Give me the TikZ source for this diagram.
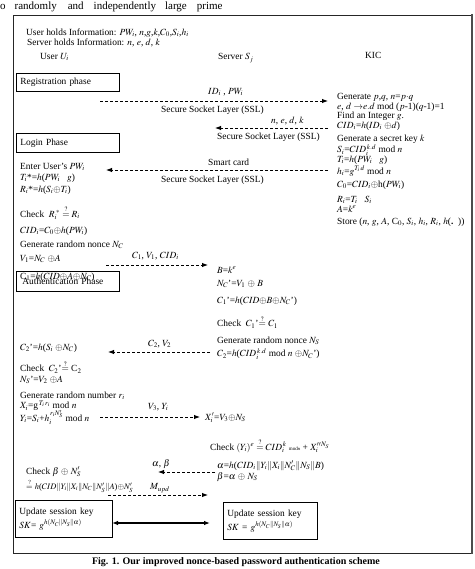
\documentclass[tikz,border=0pt]{standalone}
\usepackage{mathptmx}
\usepackage{fontspec}
\setmainfont{Liberation Serif}
\usetikzlibrary{arrows.meta}
\begin{document}
\begin{tikzpicture}[x=1pt, y=-1pt,
    information/.style ={anchor=west, inner sep=0pt, font=\fontsize{9.4}{10}\selectfont},
    phase/.style ={draw, line width=0.9pt, anchor=north west, inner xsep=4pt, inner ysep=0pt,
      align=left, font=\fontsize{9.4}{14}\selectfont},
    message/.style ={line width=0.9pt, dash pattern=on 3pt off 2pt, -{Latex[length=6pt,width=4.5pt]}}]
   \useasboundingbox (0,0) rectangle (474,569);
   % frame
   \draw[line width=0.8pt, black!85] (13,15) rectangle (471,553);
   \draw[line width=2.6pt, black!70] (472,14) -- (472,554);
   \node[anchor=west, inner sep=0pt, font=\fontsize{11}{12}\selectfont] (top) at (0,7)
     {o\hspace{9pt}randomly\hspace{11pt}and\hspace{10pt}independently\hspace{9pt}large\hspace{10pt}prime};

   \node[information] (H1) at (26,33) {User holds Information: $PW_i$, $n$,$g$,$k$,$C_0$,$S_i$,$h_i$};
   \node[information] (H2) at (27,43) {Server holds Information: $n$, $e$, $d$, $k$};
   \node[information] (U) at (40,57) {User $U_i$};
   \node[information] (S) at (218,58) {Server $S_j$};
   \node[information] (K) at (365,55) {KIC};

   % registration
   \node[phase, text width=95pt, minimum height=18pt] (reg) at (16,73) {Registration phase};
   \node[information] (R1) at (208,92) {$ID_i$ , $PW_i$};
   \coordinate (r1a) at (100,101);
   \coordinate (r1b) at (328,101);
   \draw[message] (r1a) to (r1b);
   \node[information] (R2) at (161,110) {Secure Socket Layer (SSL)};
   \node[information] (R3) at (271,121) {$n$, $e$, $d$, $k$};
   \coordinate (r2a) at (328,128);
   \coordinate (r2b) at (215,128);
   \draw[message] (r2a) to (r2b);
   \node[information] (R4) at (217,137) {Secure Socket Layer (SSL)};

   \node[information] (K1) at (337,97) {Generate $p$,$q$, $n$=$p{\cdot}q$};
   \node[information] (K2) at (337,107) {$e$, $d$ $\rightarrow$$e.d$ mod ($p$-1)($q$-1)=1};
   \node[information] (K3) at (337,116) {Find an Integer $g$.};
   \node[information] (K4) at (337,126) {$CID_i$=$h$($ID_i$ $\oplus$$d$)};
   \node[information] (K5) at (337,139) {Generate a secret key $k$};
   \node[information] (K6) at (337,150) {$S_i$=$CID_i^{\,k.d}$ mod $n$};
   \node[information] (K7) at (337,160) {$T_i$=$h$($PW_i$ \ \ $g$)};
   \node[information] (K8) at (337,171) {$h_i$=$g^{T_i\,d}$ mod $n$};
   \node[information] (K9) at (337,185) {$C_0$=$CID_i$$\oplus$h($PW_i$)};
   \node[information] (K10) at (337,200) {$R_i$=$T_i$ \ \ $S_i$};
   \node[information] (K11) at (337,209) {$A$=$k^e$};
   \node[information] (K12) at (337,222) {Store ($n$, $g$, $A$, C$_0$, $S_i$, $h_i$, $R_i$, $h$(\textbf{.}\ \ ))};

   % login
   \node[phase, text width=95pt, minimum height=19pt] (login) at (16,133) {Login Phase};
   \node[information] (L1) at (208,162) {Smart card};
   \coordinate (l1a) at (328,170);
   \coordinate (l1b) at (106,170);
   \draw[message] (l1a) to (l1b);
   \node[information] (L2) at (161,180) {Secure Socket Layer (SSL)};

   \node[information] (U1) at (20,167) {Enter User's $PW_i$};
   \node[information] (U2) at (20,178) {$T_i$*=$h$($PW_i$ \ \ $g$)};
   \node[information] (U3) at (20,190) {$R_i$*=$h$($S_i$$\oplus$$T_i$)};
   \node[information] (U4) at (20,213) {Check \ $R_i^{\;*}\stackrel{?}{=}R_i$};
   \node[information] (U5) at (20,231) {$CID_i$=$C_0$$\oplus$$h$($PW_i$)};
   \node[information] (U6) at (20,245) {Generate random nonce $N_C$};
   \node[information] (U7) at (20,259) {$V_1$=$N_C$ $\oplus$$A$};
   \node[information] (U8) at (20,277) {C$_1$=$h$($CID$$\oplus$$A$$\oplus$$N_C$)};

   % authentication
   \node[phase, text width=95pt, minimum height=20pt] (auth) at (16,271) {\hspace{2pt}Authentication Phase};
   \node[information] (A1) at (132,256) {$C_1$, $V_1$, $CID_i$};
   \coordinate (a1a) at (106,265);
   \coordinate (a1b) at (208,265);
   \draw[message] (a1a) to (a1b);

   \node[information] (S1) at (217,270) {$B$=$k^e$};
   \node[information] (S2) at (217,284) {$N_C$'=$V_1$ $\oplus$ $B$};
   \node[information] (S3) at (217,301) {$C_1$'=$h$($CID$$\oplus$$B$$\oplus$$N_C$')};
   \node[information] (S4) at (217,322) {Check \ $C_1$'$\stackrel{?}{=}$ $C_1$};
   \node[information] (S5) at (217,341) {Generate random nonce $N_S$};
   \node[information] (S6) at (217,354) {$C_2$=$h$($CID_i^{\,k.d}$ mod $n$ $\oplus$$N_C$')};

   \node[information] (A2) at (148,344) {$C_2$, $V_2$};
   \coordinate (a2a) at (210,352);
   \coordinate (a2b) at (108,352);
   \draw[message] (a2a) to (a2b);

   \node[information] (U9) at (20,348) {$C_2$'=$h$($S_i$ $\oplus$$N_C$)};
   \node[information] (U10) at (20,367) {Check \ $C_2$'$\stackrel{?}{=}$ C$_2$};
   \node[information] (U11) at (20,380) {$N_S$'=$V_2$ $\oplus$$A$};
   \node[information] (U12) at (20,396) {Generate random number $r_i$};
   \node[information] (U13) at (20,406) {$X_i$=g$^{\,T_i\,r_i}$ mod $n$};
   \node[information] (U14) at (20,417) {$Y_i$=$S_i$+$h_i^{\,r_i N_S'}$ mod $n$};

   \node[information] (A3) at (148,407) {$V_3$, $Y_i$};
   \coordinate (a3a) at (100,417);
   \coordinate (a3b) at (200,417);
   \draw[message] (a3a) to (a3b);

   \node[information] (S7) at (205,418) {$X'_i$=$V_3$$\oplus$$N_S$};
   \node[information] (S8) at (210,446) {Check $(Y_i)^e\stackrel{?}{=}CID_i^{\,k}$ {\tiny mod$n$} + $X''_i{}^{N_S}$};
   \node[information] (S9) at (217,466) {$\alpha$=$h$($CID_i\|Y_i\|X_i\|N_C'\|N_S\|B$)};
   \node[information] (S10) at (217,477) {$\beta$=$\alpha$ $\oplus$ $N_S$};

   \node[information] (A4) at (152,464) {$\alpha$, $\beta$};
   \coordinate (a4a) at (215,472);
   \coordinate (a4b) at (158,472);
   \draw[message] (a4a) to (a4b);

   \node[information] (U15) at (26,472) {Check $\beta$ $\oplus$ $N_S'$};
   \node[information, font=\fontsize{8.4}{9}\selectfont] (U16) at (26,486)
     {$\stackrel{?}{=}$ $h$($CID\|Y_i\|X_i\|N_C\|N_S'\|A$)$\oplus$$N_S'$};

   \node[information] (A5) at (150,488) {$M_{upd}$};
   \coordinate (a5a) at (108,495);
   \coordinate (a5b) at (208,495);
   \draw[message] (a5a) to (a5b);

   % update
   \node[phase, text width=89pt, minimum height=37pt] (UL) at (15,500)
     {Update session key\\$SK$= $g^{h(N_C\|N_S\|\alpha)}$};
   \node[phase, text width=86pt, minimum height=37pt] (UR) at (223,502)
     {Update session key\\$SK$ = $g^{h(N_C\|N_S\|\alpha)}$};
   \coordinate (ka) at (112,523);
   \coordinate (kb) at (210,523);
   \draw[line width=1.1pt, {Latex[length=6pt,width=4.5pt]}-{Latex[length=6pt,width=4.5pt]}] (ka) to (kb);

   \node[font=\bfseries\fontsize{10}{12}\selectfont, inner sep=0pt] (cap) at (236,562)
     {Fig. 1. Our improved nonce-based password authentication scheme};
 \end{tikzpicture}
\end{document}
